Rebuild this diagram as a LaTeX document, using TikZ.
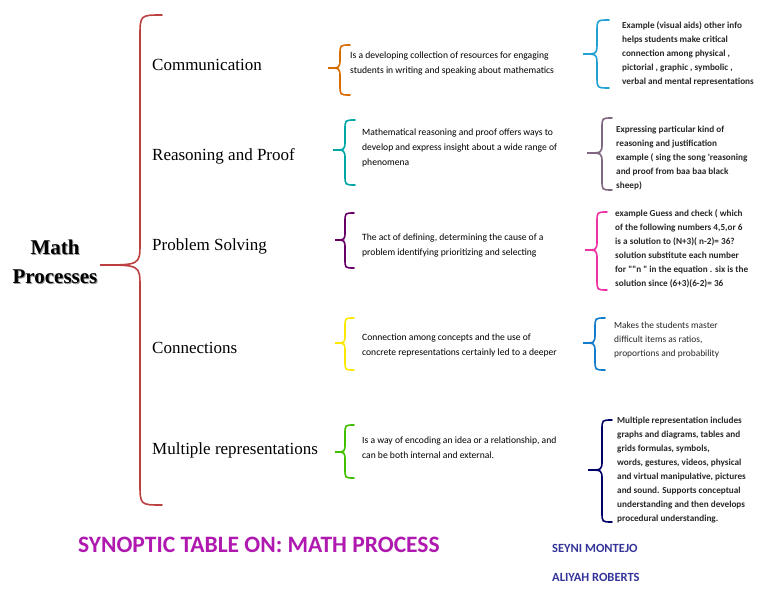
\documentclass[tikz,border=0pt]{standalone}
\usepackage{fontspec}
\setmainfont{Liberation Serif}
\newfontfamily\calfnt{Carlito}
\begin{document}
\begin{tikzpicture}[x=1pt,y=-1pt,
  lab/.style={anchor=west,font=\fontsize{17}{20}\selectfont,inner sep=0},
  mid/.style={anchor=west,align=left,font=\calfnt\fontsize{9.6}{15}\selectfont,inner sep=0},
  rt/.style={anchor=west,align=left,font=\calfnt\bfseries\fontsize{9.2}{14}\selectfont,inner sep=0,color=black!85},
  br/.style={line width=1.6pt,line cap=round}]
\useasboundingbox (0,0) rectangle (768,594);
\newcommand\brc[7]{\draw[br,#1] (#2+#7,#3) .. controls (#2,#3) .. (#2,#3+#7) -- (#2,#4-#7) .. controls (#2,#4) .. (#6,#4) .. controls (#2,#4) .. (#2,#4+#7) -- (#2,#5-#7) .. controls (#2,#5) .. (#2+#7,#5);}
% big brace
\brc{red!65!black!75}{140}{15}{265}{505}{100}{22}
\node[font=\bfseries\fontsize{21}{25}\selectfont,align=center,inner sep=0,text=black!40] at (56,263) {Math\\[4pt]Processes};
\node[font=\bfseries\fontsize{21}{25}\selectfont,align=center,inner sep=0] (mp) at (55,262) {Math\\[4pt]Processes};
\node[lab] (c1) at (152,65) {Communication};
\node[lab] (c2) at (152,156) {Reasoning and Proof};
\node[lab] (c3) at (152,246) {Problem Solving};
\node[lab] (c4) at (152,348) {Connections};
\node[lab] (c5) at (152,450) {Multiple representations};
% middle braces
\brc{orange!85!black}{340}{45}{68}{95}{328}{10}
\brc{teal!70!cyan}{345}{120}{150}{185}{333}{10}
\brc{violet!80!black}{345}{213}{240}{268}{335}{9}
\brc{yellow!90!orange}{345}{318}{343}{370}{335}{9}
\brc{green!50!olive}{345}{425}{452}{478}{335}{9}
\node[mid] (m1) at (350,63) {Is a developing collection of resources for engaging\\students in writing and speaking about mathematics};
\node[mid] (m2) at (362,148) {Mathematical reasoning and proof offers ways to\\develop and express insight about a wide range of\\phenomena};
\node[mid] (m3) at (362,245) {The act of defining, determining the cause of a\\problem identifying prioritizing and selecting};
\node[mid] (m4) at (362,345) {Connection among concepts and the use of\\concrete representations certainly led to a deeper};
\node[mid] (m5) at (362,448) {Is a way of encoding an idea or a relationship, and\\can be both internal and external.};
% right braces
\brc{cyan!70!teal}{597}{20}{54}{88}{583}{12}
\brc{gray!80!violet}{602}{118}{153}{190}{587}{10}
\brc{magenta!80}{597}{212}{250}{290}{585}{10}
\brc{cyan!60!blue}{595}{318}{343}{370}{583}{10}
\brc{blue!40!black}{602}{420}{470}{522}{588}{10}
\node[rt] (r1) at (622,54) {Example (visual aids) other info\\helps students make critical\\connection among physical ,\\pictorial , graphic , symbolic ,\\verbal and mental representations};
\node[rt] (r2) at (616,158) {Expressing particular kind of\\reasoning and justification\\example ( sing the song 'reasoning\\and proof from baa baa black\\sheep)};
\node[rt] (r3) at (615,249) {example Guess and check ( which\\of the following numbers 4,5,or 6\\is a solution to (N+3)( n-2)= 36?\\solution substitute each number\\for ""n " in the equation . six is the\\solution since (6+3)(6-2)= 36};
\node[rt,font=\calfnt\fontsize{9.4}{14}\selectfont] (r4) at (614,340) {Makes the students master\\difficult items as ratios,\\proportions and probability};
\node[rt] (r5) at (617,470) {Multiple representation includes\\graphs and diagrams, tables and\\grids formulas, symbols,\\words, gestures, videos, physical\\and virtual manipulative, pictures\\and sound. Supports conceptual\\understanding and then develops\\procedural understanding.};
% title
\node[anchor=west,inner sep=0,font=\calfnt\bfseries\fontsize{23.5}{28}\selectfont,color=violet!70!magenta!90] (t) at (78,545) {SYNOPTIC TABLE ON: MATH PROCESS};
\node[anchor=west,inner sep=0,font=\calfnt\bfseries\fontsize{12.5}{14}\selectfont,color=blue!50!black!80] (n1) at (552,548) {SEYNI MONTEJO};
\node[anchor=west,inner sep=0,font=\calfnt\bfseries\fontsize{12.5}{14}\selectfont,color=blue!50!black!80] (n2) at (552,577) {ALIYAH ROBERTS};
\end{tikzpicture}
\end{document}
